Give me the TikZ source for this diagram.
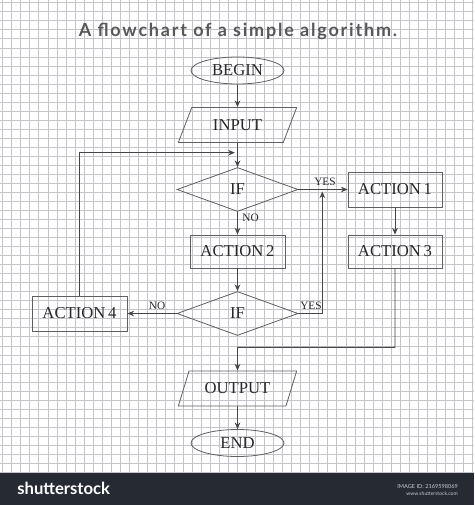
\documentclass[tikz,border=0pt]{standalone}
\usepackage{fontspec}
\setmainfont{Liberation Serif}
\newfontfamily\titlefont{Lato}
\newfontfamily\titlefontsp[LetterSpace=10]{Lato}
\usetikzlibrary{shapes.geometric,arrows.meta}
\definecolor{gridc}{RGB}{196,196,202}
\definecolor{linec}{RGB}{70,70,70}
\definecolor{borderc}{RGB}{95,95,95}
\definecolor{textc}{RGB}{40,40,40}
\definecolor{bannerc}{RGB}{38,42,51}
\tikzset{
  box/.style={draw=borderc, line width=0.6pt, rectangle, inner sep=0pt, text=textc, font=\fontsize{12.5}{13}\selectfont},
  term/.style={draw=borderc, line width=0.6pt, ellipse, inner sep=0pt, minimum width=69.75pt, minimum height=20.25pt, text=textc, font=\fontsize{12.5}{13}\selectfont},
  para/.style={draw=borderc, line width=0.6pt, trapezium, trapezium left angle=57, trapezium right angle=123, trapezium stretches=true, minimum width=88.8pt, minimum height=26.25pt, inner sep=0pt, text=textc, font=\fontsize{12.5}{13}\selectfont},
  cond/.style={draw=borderc, line width=0.6pt, diamond, inner sep=0pt, minimum width=90.75pt, minimum height=33pt, shape aspect=2.75, text=textc, font=\fontsize{12.5}{13}\selectfont},
  conn/.style={draw=linec, line width=0.7pt},
  arr/.style={conn, -{Stealth[length=5pt,width=4.2pt]}},
  lbl/.style={text=textc, font=\fontsize{8.5}{9}\selectfont, inner sep=0pt},
}
\begin{document}
\begin{tikzpicture}[x=0.75pt,y=-0.75pt]
\useasboundingbox (0,0) rectangle (474,505);
\fill[white] (0,0) rectangle (474,505);
% grid
\foreach \i in {0,...,52} {
  \draw[gridc, line width=0.5pt] (2.7+\i*9.03,0) -- (2.7+\i*9.03,472.5);
  \draw[gridc, line width=0.5pt] (0,2.7+\i*9.03) -- (474,2.7+\i*9.03);
}
% banner
\fill[bannerc] (0,472.5) rectangle (474,505);
\node[text=white, font=\titlefont\bfseries\fontsize{12.5}{13}\selectfont, anchor=west, inner sep=0pt] (brand) at (17,488.5) {shutterstock};
\node[text=white!75!bannerc, font=\titlefont\fontsize{4.2}{5}\selectfont, anchor=east, inner sep=0pt] (imgid) at (458,486) {IMAGE ID: 2169598069};
\node[text=white!75!bannerc, font=\titlefont\fontsize{3.8}{5}\selectfont, anchor=east, inner sep=0pt] (www) at (458,494) {www.shutterstock.com};
% title
\node[text={rgb,255:red,88;green,88;blue,88}, font=\titlefontsp\bfseries\fontsize{13.5}{15}\selectfont, inner sep=0pt] (title) at (238,31) {A flowchart of a simple algorithm.};
% nodes
\node[term] (begin) at (237.5,70.5) {BEGIN};
\node[para] (inp) at (237.5,125) {INPUT};
\node[cond] (if1) at (237.5,189.5) {IF};
\node[box, minimum width=70.5pt, minimum height=26.25pt] (a1) at (395,189.5) {ACTION\,1};
\node[box, minimum width=70.5pt, minimum height=24.75pt] (a3) at (395,251.5) {ACTION\,3};
\node[box, minimum width=71.25pt, minimum height=24.75pt] (a2) at (237.5,251.5) {ACTION\,2};
\node[cond] (if2) at (237.5,313.5) {IF};
\node[box, minimum width=71.25pt, minimum height=26.25pt] (a4) at (79.5,313.5) {ACTION\,4};
\node[para] (out) at (237.5,388.5) {OUTPUT};
\node[term] (end) at (237.5,443) {END};
% helper coordinates
\coordinate (loopin) at (237.5,152.7);
\coordinate (yesin) at (322.3,189.5);
\coordinate (yescorner) at (322.3,313.5);
\coordinate (merge) at (237.5,347.3);
% connectors
\draw[arr] (begin) -- (inp);
\draw[arr] (inp) -- (if1);
\draw[arr] (if1) -- (a1);
\draw[arr] (if1) -- (a2);
\draw[arr] (a1) -- (a3);
\draw[arr] (a2) -- (if2);
\draw[arr] (if2) -- (a4);
\draw[arr] (if2.east) -- (yescorner) -- ([yshift=-1.5]yesin);
\draw[arr] (a4.north) |- ([xshift=-2]loopin);
\draw[arr] (a3.south) |- (merge) -- (out.north);
\draw[arr] (out) -- (end);
% labels
\node[lbl] (yes1) at (325,182) {YES};
\node[lbl] (no1) at (250.5,217.5) {NO};
\node[lbl] (no2) at (157,306) {NO};
\node[lbl] (yes2) at (311,306) {YES};
\end{tikzpicture}
\end{document}
